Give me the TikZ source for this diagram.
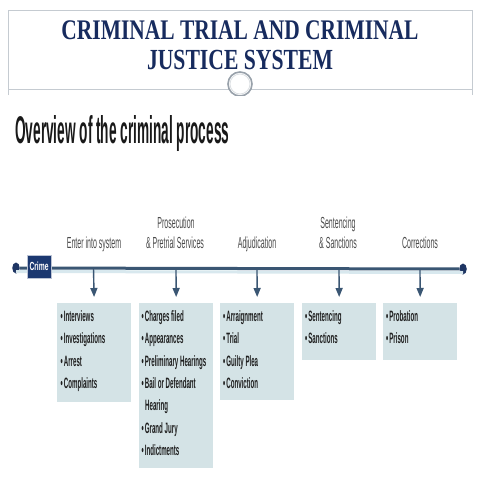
\documentclass[tikz,border=0pt]{standalone}
\usepackage{fontspec}
\usepackage{graphicx}
\setmainfont{Liberation Serif}
\newfontfamily\lsans{Liberation Sans}
\usetikzlibrary{arrows.meta,shapes.geometric}
\definecolor{titlenavy}{HTML}{172B5E}
\definecolor{framegray}{HTML}{C5CBD1}
\definecolor{ringgray}{HTML}{98A1AA}
\definecolor{linecol}{HTML}{3A5673}
\definecolor{navy}{HTML}{1E3563}
\definecolor{crimefill}{HTML}{1B3870}
\definecolor{boxfill}{HTML}{D4E3E6}
\definecolor{stagecol}{HTML}{4A4A4A}
\definecolor{itemcol}{HTML}{1E1E1E}
\definecolor{glow}{HTML}{D8E8EE}
\newcommand{\cnd}[1]{\scalebox{0.44}[1]{#1}}
\newcommand{\cnb}[1]{\scalebox{0.41}[1]{#1}}
\begin{document}
\begin{tikzpicture}[x=1pt,y=-1pt,
  titletext/.style={inner sep=0pt, text=titlenavy, font=\bfseries},
  frameline/.style={draw=framegray, line width=1pt},
  stagelabel/.style={inner sep=0pt, anchor=base, text=stagecol, font=\lsans\fontsize{16}{16}\selectfont},
  itembox/.style={fill=boxfill, draw=none, inner sep=0pt, anchor=north west, minimum width=74pt},
  item/.style={inner sep=0pt, anchor=base west, text=itemcol, font=\lsans\bfseries\fontsize{15}{15}\selectfont},
  enddot/.style={ellipse, fill=navy, inner sep=0pt, minimum width=7.5pt, minimum height=11pt},
  arr/.style={draw=linecol, line width=1.4pt, -{Triangle[width=7pt,length=9pt]}, shorten >=6pt},
]
\useasboundingbox (0,0) rectangle (480,480);
\fill[white] (0,0) rectangle (480,480);

% title frame
\draw[frameline] (8,95) -- (8,10) -- (472,10) -- (472,95);
\draw[frameline] (8,89) -- (229,89);
\draw[frameline] (251,89) -- (472,89);
\begin{scope}
  \clip (0,0) rectangle (480,95);
  \draw[ringgray, line width=1.6pt] (240,84) circle (12pt);
  \draw[framegray!60, line width=0.8pt] (240,84) circle (10pt);
\end{scope}
\node[titletext, anchor=base] (t1) at (240,39.3) {\resizebox{357pt}{18.8pt}{CRIMINAL TRIAL AND CRIMINAL}};
\node[titletext, anchor=base] (t2) at (240,69.5) {\resizebox{186pt}{19.3pt}{JUSTICE SYSTEM}};

% subtitle
\node[inner sep=0pt, anchor=base west, text=black!90] (ov) at (15,143) {\lsans\resizebox{214pt}{28pt}{\bfseries Overview of the criminal process}};

% stage labels
\node[stagelabel] (s1) at (94,248) {\cnd{Enter into system}};
\node[stagelabel] (s2a) at (176,228) {\cnd{Prosecution}};
\node[stagelabel] (s2b) at (175,248) {\cnd{\& Pretrial Services}};
\node[stagelabel] (s3) at (257,248) {\cnd{Adjudication}};
\node[stagelabel] (s4a) at (338,228) {\cnd{Sentencing}};
\node[stagelabel] (s4b) at (338,248) {\cnd{\& Sanctions}};
\node[stagelabel] (s5) at (420,248) {\cnd{Corrections}};

% timeline
\node[enddot] (start) at (16,268) {};
\node[enddot] (stop) at (463,269) {};
\draw[glow, line width=3pt] (16,271.5) -- (463,272.5);
\draw[linecol, line width=3pt] (start) -- (stop);
\node[fill=crimefill, draw=white!70!crimefill, line width=0.8pt, minimum width=24pt, minimum height=23pt, inner sep=0pt, text=white] (crime) at (39,266.5) {\lsans\resizebox{19pt}{8.5pt}{\bfseries Crime}};

% boxes
\node[itembox, minimum height=99pt] (b1) at (57,303) {};
\node[itembox, minimum height=165pt] (b2) at (139,303) {};
\node[itembox, minimum height=97pt] (b3) at (220,303) {};
\node[itembox, minimum height=57pt] (b4) at (302,303) {};
\node[itembox, minimum height=57pt] (b5) at (383,303) {};

% arrows
\coordinate (c1) at (93.5,268);
\coordinate (c2) at (176,268);
\coordinate (c3) at (257,268);
\coordinate (c4) at (339,268);
\coordinate (c5) at (420,269);
\draw[arr] (c1) -- (b1.north);
\draw[arr] (c2) -- (b2.north);
\draw[arr] (c3) -- (b3.north);
\draw[arr] (c4) -- (b4.north);
\draw[arr] (c5) -- (b5.north);

% box items
\foreach \t [count=\i] in {Interviews, Investigations, Arrest, Complaints}
  \node[item] (b1i\i) at (60.5,{321.5+22.3*(\i-1)}) {\cnb{\textbullet\,\t}};
\node[item] (b2i1) at (141.5,321.5) {\cnb{\textbullet\,Charges filed}};
\node[item] (b2i2) at (141.5,343.8) {\cnb{\textbullet\,Appearances}};
\node[item] (b2i3) at (141.5,366.1) {\cnb{\textbullet\,Preliminary Hearings}};
\node[item] (b2i4) at (141.5,388.4) {\cnb{\textbullet\,Bail or Defendant}};
\node[item] (b2i5) at (145,410.7) {\cnb{Hearing}};
\node[item] (b2i6) at (141.5,433.0) {\cnb{\textbullet\,Grand Jury}};
\node[item] (b2i7) at (141.5,455.3) {\cnb{\textbullet\,Indictments}};
\foreach \t [count=\i] in {Arraignment, Trial, Guilty Plea, Conviction}
  \node[item] (b3i\i) at (223,{321.5+22.3*(\i-1)}) {\cnb{\textbullet\,\t}};
\foreach \t [count=\i] in {Sentencing, Sanctions}
  \node[item] (b4i\i) at (305,{321.5+22.3*(\i-1)}) {\cnb{\textbullet\,\t}};
\foreach \t [count=\i] in {Probation, Prison}
  \node[item] (b5i\i) at (386,{321.5+22.3*(\i-1)}) {\cnb{\textbullet\,\t}};
\end{tikzpicture}
\end{document}
